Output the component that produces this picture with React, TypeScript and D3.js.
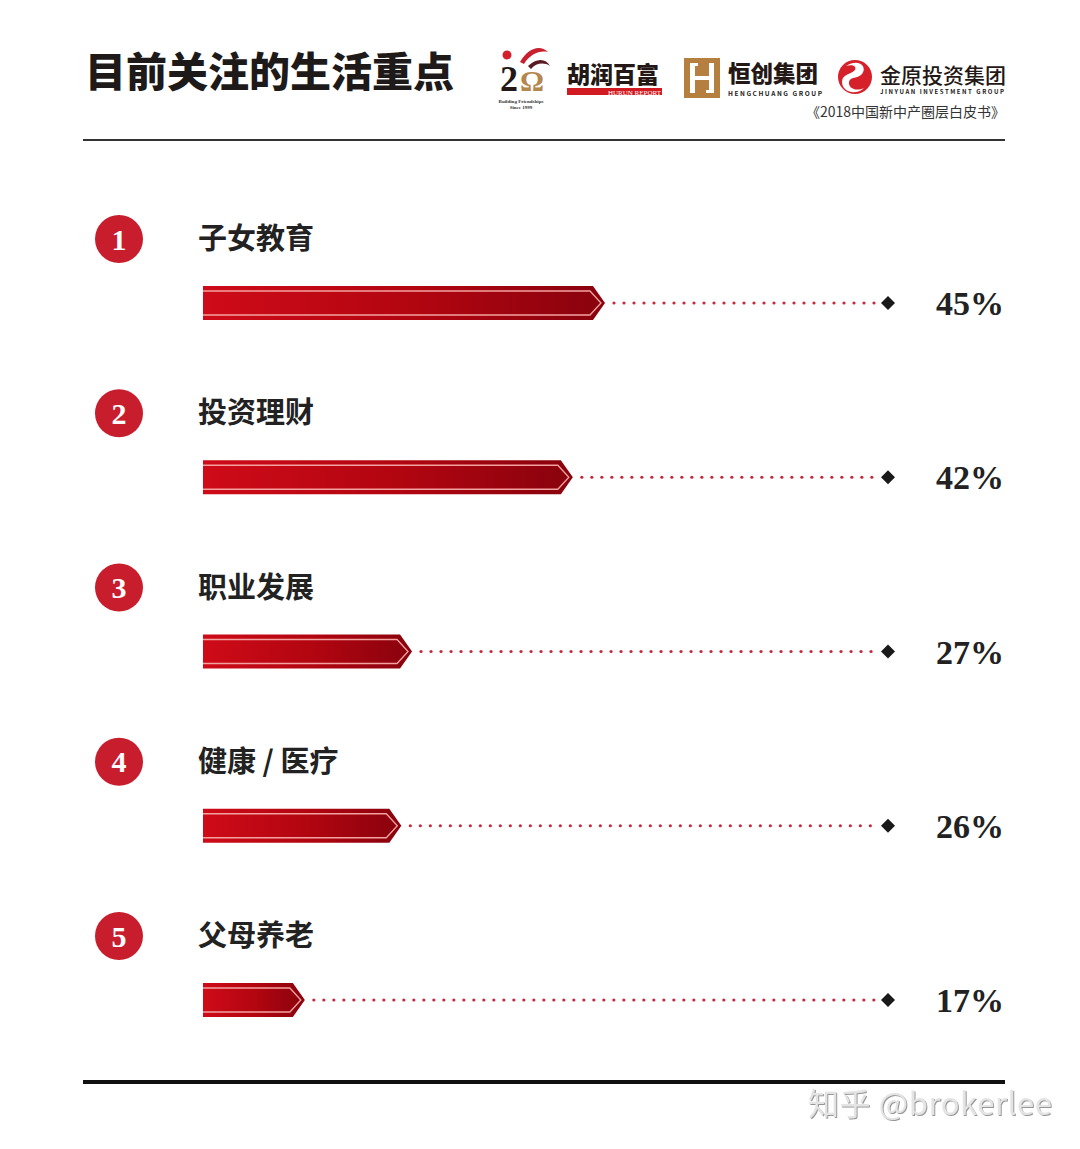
import React from 'react';
import * as d3 from 'd3';

const categories = ['子女教育', '投资理财', '职业发展', '健康 / 医疗', '父母养老'];
const values = [45, 42, 27, 26, 17];
const ranks = [1, 2, 3, 4, 5];

const W = 1080;
const H = 1149;

const SANS = '"Noto Sans CJK SC", "Noto Sans", sans-serif';
const SERIF = '"Liberation Serif", "DejaVu Serif", serif';

export default function App() {
  const rowY = d3.scaleLinear().domain([0, 4]).range([239, 936]);
  const x = d3.scaleLinear().domain([7.5, 45]).range([203, 605]);
  const barH = 34;
  const tip = 12;
  const dotEnd = 880;
  const diamondX = 888;

  return (
    <svg width={W} height={H} style={{ position: 'absolute', left: 0, top: 0, background: '#fff' }}>
      <defs>
        <linearGradient id="barGrad" x1="0" x2="1" y1="0" y2="0">
          <stop offset="0%" stopColor="#cf0b18" />
          <stop offset="55%" stopColor="#b00510" />
          <stop offset="100%" stopColor="#88020d" />
        </linearGradient>
        <filter id="wm" x="-5%" y="-20%" width="110%" height="140%">
          <feDropShadow dx="1" dy="1" stdDeviation="0.6" floodColor="#8a8a8a" floodOpacity="0.9" />
        </filter>
      </defs>
      <rect x={0} y={0} width={W} height={H} fill="#fff" />

      {/* Title */}
      <text x={85} y={87} fontFamily={SANS} fontWeight={900} fontSize={41} fill="#1e1a1a">目前关注的生活重点</text>

      {/* Logo 1 : 20 years */}
      <g>
        <circle cx={507} cy={55} r={4.5} fill="#d4202c" />
        <path d="M520,62 C528,48 540,44 548,52 C540,50 530,54 524,64 Z" fill="#c8202e" />
        <path d="M528,66 C536,58 546,58 550,66 C544,62 536,63 531,69 Z" fill="#5a1a22" />
        <text x={500} y={91} fontFamily={SERIF} fontWeight={700} fontSize={36} fill="#231816">2</text>
        <text x={520} y={91} fontFamily={SERIF} fontWeight={700} fontSize={30} fill="#b4874e">Ω</text>
        <text x={521} y={103} textAnchor="middle" fontFamily={SERIF} fontSize={5} fontWeight={700} fill="#333">Building Friendships</text>
        <text x={521} y={109} textAnchor="middle" fontFamily={SERIF} fontSize={5} fontWeight={700} fill="#333">Since 1999</text>
      </g>

      {/* Logo 2 : Hurun */}
      <g>
        <text x={567} y={83} fontFamily={SANS} fontWeight={900} fontSize={23} fill="#231815">胡润百富</text>
        <rect x={567} y={88} width={95} height={7} fill="#d21a22" />
        <text x={661} y={94.5} textAnchor="end" fontFamily={SERIF} fontSize={7} fill="#fff">HURUN REPORT</text>
      </g>

      {/* Logo 3 : Hengchuang */}
      <g>
        <rect x={684} y={58} width={36} height={40} fill="#b5803f" />
        <rect x={690} y={63} width={5} height={30} fill="#fff" />
        <rect x={709} y={63} width={5} height={30} fill="#fff" />
        <rect x={695} y={76} width={14} height={4} fill="#fff" />
        <rect x={690} y={63} width={8} height={3} fill="#fff" />
        <rect x={706} y={90} width={8} height={3} fill="#fff" />
        <text x={728} y={82} fontFamily={SANS} fontWeight={900} fontSize={22.5} fill="#231815">恒创集团</text>
        <text x={728} y={96} fontFamily={SANS} fontWeight={700} fontSize={6.5} fill="#231815" textLength={94}>HENGCHUANG GROUP</text>
      </g>

      {/* Logo 4 : Jinyuan */}
      <g>
        <circle cx={855} cy={77} r={17} fill="#d6202a" />
        <path d="M846,66 C858,58 868,66 862,74 C858,79 850,76 849,82 C848,88 856,92 864,88 C856,96 842,92 842,82 C842,74 852,74 855,70 C857,66 852,64 846,66 Z" fill="#fff" />
        <text x={880} y={83} fontFamily={SANS} fontWeight={500} fontSize={21} fill="#231815">金原投资集团</text>
        <text x={880} y={94} fontFamily={SANS} fontWeight={700} fontSize={6} fill="#231815" textLength={124}>JINYUAN INVESTMENT GROUP</text>
      </g>

      <text x={1005} y={117} textAnchor="end" fontFamily={SANS} fontSize={14} fill="#333">《2018中国新中产圈层白皮书》</text>

      {/* Top rule */}
      <line x1={83} x2={1005} y1={140} y2={140} stroke="#333" strokeWidth={2} />

      {/* Rows */}
      {categories.map((cat, i) => {
        const cy = rowY(i);
        const by = cy + 64;
        const x0 = x.range()[0];
        const xe = x(values[i]);
        const top = by - barH / 2;
        const bot = by + barH / 2;
        const barPath = `M${x0},${top} L${xe - tip},${top} L${xe},${by} L${xe - tip},${bot} L${x0},${bot} Z`;
        const ins = 5;
        const innerPath = `M${x0},${top + ins} L${xe - tip - 3},${top + ins} L${xe - 4},${by} L${xe - tip - 3},${bot - ins} L${x0},${bot - ins}`;
        const dots = d3.range(xe + 9, dotEnd, 10);
        return (
          <g key={cat}>
            <circle cx={119} cy={cy} r={24} fill="#c81d2d" />
            <text x={119} y={cy + 10.5} textAnchor="middle" fontFamily={SERIF} fontWeight={700} fontSize={30} fill="#fff">{ranks[i]}</text>
            <text x={198} y={cy + 10} fontFamily={SANS} fontWeight={700} fontSize={29} fill="#222">{cat}</text>
            <path d={barPath} fill="url(#barGrad)" />
            <path d={innerPath} fill="none" stroke="#f3a2a0" strokeWidth={1.3} />
            {dots.map((dx, k) => (
              <circle key={k} cx={dx} cy={by} r={1.6} fill="#c42a3c" />
            ))}
            <path d={`M${diamondX - 7},${by} L${diamondX},${by - 7} L${diamondX + 7},${by} L${diamondX},${by + 7} Z`} fill="#1a1a1a" />
            <text x={1004} y={by + 12} textAnchor="end" fontFamily={SERIF} fontWeight={700} fontSize={34} fill="#222">{values[i]}%</text>
          </g>
        );
      })}

      {/* Bottom rule */}
      <line x1={83} x2={1005} y1={1082} y2={1082} stroke="#111" strokeWidth={4} />

      {/* Watermark */}
      <text x={808} y={1115} fontFamily={SANS} fontSize={31} fill="#e4e4e4" letterSpacing={0.6} filter="url(#wm)">知乎 @brokerlee</text>
    </svg>
  );
}
